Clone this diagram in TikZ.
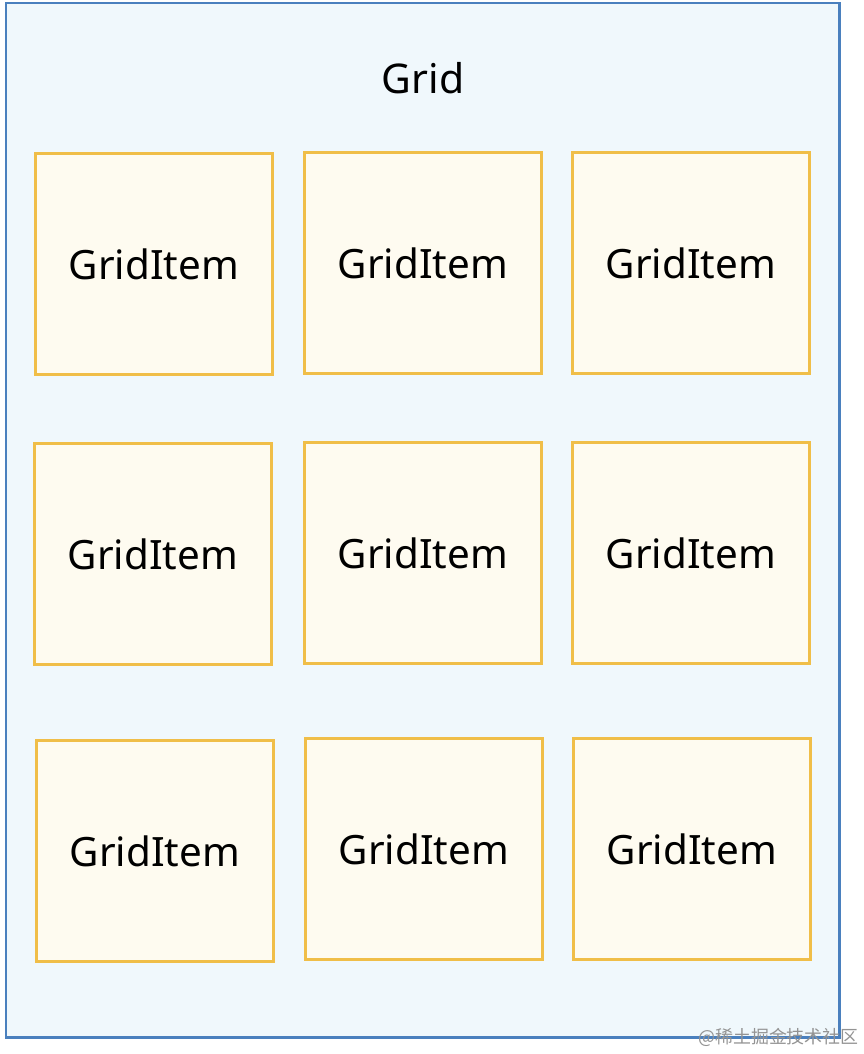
\documentclass[tikz,border=0pt]{standalone}
\usepackage{fontspec}
\setmainfont{Noto Sans}
\newfontfamily\cjk{Noto Sans CJK SC}
\usepackage{tikz}
\usetikzlibrary{positioning,calc}
\definecolor{gridblue}{HTML}{4A80BE}
\definecolor{gridfill}{HTML}{F0F8FC}
\definecolor{itemline}{HTML}{F0BE48}
\definecolor{itemfill}{HTML}{FEFBF0}
\begin{document}
\begin{tikzpicture}[x=0.02cm,y=-0.02cm]
            \tikzstyle{item}=[rectangle, draw=itemline, fill=itemfill,
            line width=1.3pt, minimum width=4.74cm, minimum height=4.42cm,
            inner sep=0pt, font=\fontsize{23}{27}\selectfont]
            \useasboundingbox (0,0) rectangle (864,1054);
            \draw[draw=gridblue, fill=gridfill, line width=1.7pt]
            (6,3) rectangle (839,1037);
            \node[font=\fontsize{23.3}{27}\selectfont] (grid) at (423,78) {Grid};
            \node[item] (a) at (154,264) {GridItem};
            \node[item] (b) at (423,263) {GridItem};
            \node[item] (c) at (691,263) {GridItem};
            \node[item] (d) at (153,554) {GridItem};
            \node[item] (e) at (423,553) {GridItem};
            \node[item] (f) at (691,553) {GridItem};
            \node[item] (g) at (155,851) {GridItem};
            \node[item] (h) at (424,849) {GridItem};
            \node[item] (i) at (692,849) {GridItem};
            % watermark
            \node[text=gray!85, font=\cjk\fontsize{10.2}{12}\selectfont,
            anchor=east, inner sep=0pt] (mark) at (859,1037) {@稀土掘金技术社区};
        \end{tikzpicture}
\end{document}
